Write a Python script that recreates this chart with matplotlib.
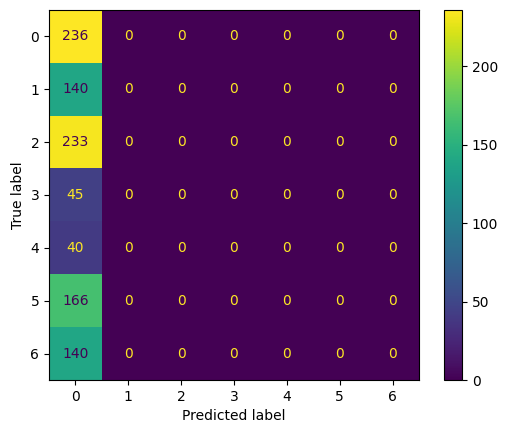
import numpy as np
import matplotlib
matplotlib.use("Agg")
import matplotlib.pyplot as plt

labels = ["0", "1", "2", "3", "4", "5", "6"]
first_col = [236, 140, 233, 45, 40, 166, 140]

cm = np.zeros((7, 7), dtype=int)
cm[:, 0] = first_col

fig = plt.figure(figsize=(5.14, 4.34), dpi=100)
ax = fig.add_axes([49/514, 54/434, 370/514, 370/434])
cax = fig.add_axes([444/514, 54/434, 18/514, 370/434])

cmap = plt.get_cmap("viridis")
im = ax.imshow(cm, interpolation="nearest", cmap=cmap, vmin=cm.min(), vmax=cm.max())
cmap_min, cmap_max = im.cmap(0), im.cmap(1.0)
thresh = (cm.max() + cm.min()) / 2.0
for i in range(7):
    for j in range(7):
        color = cmap_max if cm[i, j] < thresh else cmap_min
        ax.text(j, i, format(cm[i, j], "d"), ha="center", va="center", color=color)

fig.colorbar(im, cax=cax)
ax.set_xticks(range(7), labels)
ax.set_yticks(range(7), labels)
ax.set_xlabel("Predicted label")
ax.set_ylabel("True label")
ax.set_ylim(6.5, -0.5)

fig.savefig("out.png", dpi=100)
